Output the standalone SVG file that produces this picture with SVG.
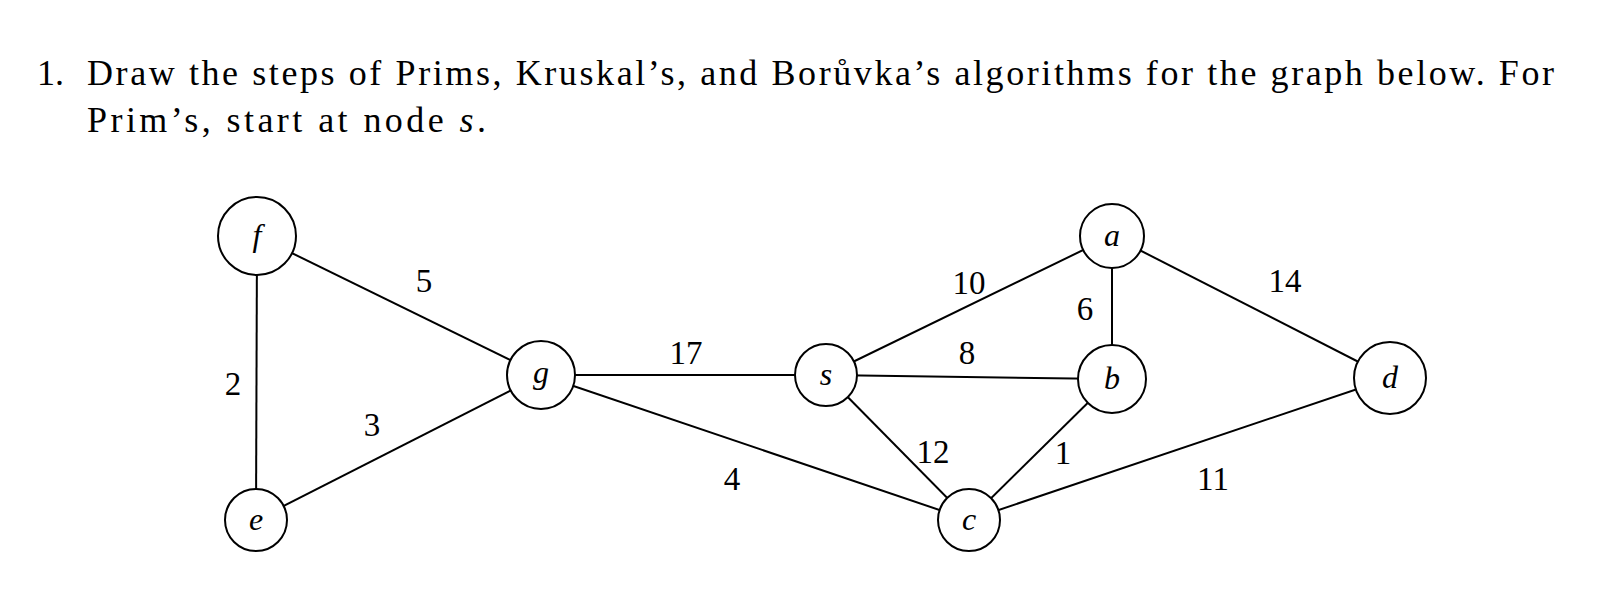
<svg xmlns="http://www.w3.org/2000/svg" width="1614" height="606" viewBox="0 0 1614 606">
<style>
.t{font-family:"Liberation Serif",serif;font-size:36px;fill:#000}
.l{font-family:"Liberation Serif",serif;font-size:33px;fill:#000;text-anchor:middle}
.n{font-family:"Liberation Serif",serif;font-size:32px;font-style:italic;fill:#000;text-anchor:middle}
circle{fill:#fff;stroke:#000;stroke-width:2}
line{stroke:#000;stroke-width:2}
</style>
<rect width="1614" height="606" fill="#fff"/>
<text class="t" x="37" y="85">1.</text>
<text class="t" x="87" y="85" textLength="1467" lengthAdjust="spacing">Draw the steps of Prims, Kruskal’s, and Borůvka’s algorithms for the graph below.  For</text>
<text class="t" x="87" y="132" textLength="399" lengthAdjust="spacing">Prim’s, start at node <tspan font-style="italic">s</tspan>.</text>
<g id="connectors">
<line x1="257" y1="236" x2="256" y2="520"/>
<line x1="257" y1="236" x2="541" y2="375"/>
<line x1="256" y1="520" x2="541" y2="375"/>
<line x1="541" y1="375" x2="826" y2="375"/>
<line x1="541" y1="375" x2="969" y2="520"/>
<line x1="826" y1="375" x2="1112" y2="236"/>
<line x1="826" y1="375" x2="1112" y2="379"/>
<line x1="826" y1="375" x2="969" y2="520"/>
<line x1="1112" y1="236" x2="1112" y2="379"/>
<line x1="1112" y1="236" x2="1390" y2="378"/>
<line x1="1112" y1="379" x2="969" y2="520"/>
<line x1="969" y1="520" x2="1390" y2="378"/>
<text class="l" x="424" y="292">5</text>
<text class="l" x="233" y="395">2</text>
<text class="l" x="372" y="436">3</text>
<text class="l" x="686" y="364">17</text>
<text class="l" x="732" y="490">4</text>
<text class="l" x="969" y="294">10</text>
<text class="l" x="1085" y="320">6</text>
<text class="l" x="967" y="364">8</text>
<text class="l" x="933" y="463">12</text>
<text class="l" x="1063" y="464">1</text>
<text class="l" x="1285" y="292">14</text>
<text class="l" x="1213" y="490">11</text>
</g>
<g id="f"><circle cx="257" cy="236" r="39"/><text class="n" x="257" y="246">f</text></g>
<g id="e"><circle cx="256" cy="520" r="31"/><text class="n" x="256" y="530">e</text></g>
<g id="g"><circle cx="541" cy="375" r="34"/><text class="n" x="541" y="383">g</text></g>
<g id="s"><circle cx="826" cy="375" r="31"/><text class="n" x="826" y="385">s</text></g>
<g id="a"><circle cx="1112" cy="236" r="32"/><text class="n" x="1112" y="246">a</text></g>
<g id="b"><circle cx="1112" cy="379" r="34"/><text class="n" x="1112" y="389">b</text></g>
<g id="d"><circle cx="1390" cy="378" r="36"/><text class="n" x="1390" y="388">d</text></g>
<g id="c"><circle cx="969" cy="520" r="31"/><text class="n" x="969" y="530">c</text></g>
</svg>
